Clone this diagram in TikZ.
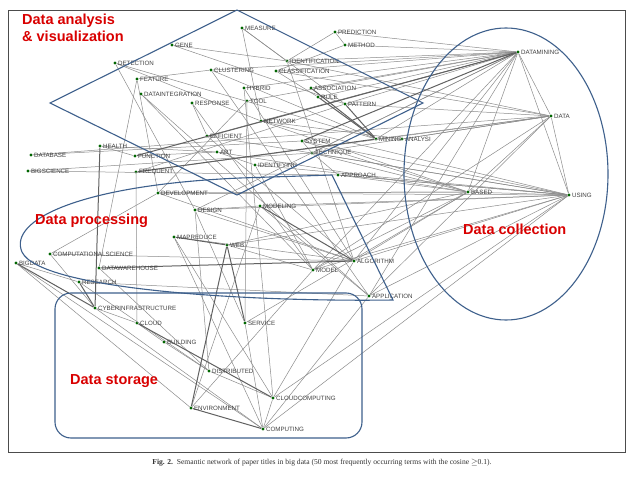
\documentclass[tikz,border=0pt]{standalone}
\usepackage{fontspec}
\setmainfont{Liberation Sans}
\newfontfamily\capfont{Liberation Serif}
\definecolor{regblue}{RGB}{62,96,140}
\begin{document}
\begin{tikzpicture}[x=1pt,y=-1pt,
  dot/.style={circle,fill=green!40!black,inner sep=0pt,minimum size=3.4pt},
  lab/.style={font=\fontsize{6.2}{7}\selectfont,text=black!75,inner sep=1pt},
  edge/.style={draw=black!45,line width=0.5pt},
  sedge/.style={draw=black!62,line width=1pt},
  region/.style={draw=regblue,line width=1.1pt},
  title/.style={text=red!85!black,font=\bfseries\fontsize{14.5}{17}\selectfont,anchor=north west,align=left,inner sep=0pt}]
\useasboundingbox (0,0) rectangle (638,479);
\fill[white] (0,0) rectangle (638,479);
\draw[black!70,line width=0.8pt] (8,10) rectangle (625,452);
\foreach \id/\x/\y in {
 MEASURE/242/28, GENE/172/45, DETECTION/115/63,
 IDENTIFICATION/287/61, CLUSTERING/211/70,
 CLASSIFICATION/276/71, FEATURE/137/79,
 DATAINTEGRATION/141/94, HYBRID/244/88, TOOL/247/101,
 RESPONSE/192/103, ASSOCIATION/311/88, RULE/318/97,
 PATTERN/345/104, PREDICTION/335/32, METHOD/345/45,
 NETWORK/261/121, EFFICIENT/207/136, HEALTH/100/146,
 DATABASE/31/155, BIGSCIENCE/28/171, FUNCTION/135/156,
 ART/217/152, SYSTEM/302/141, MINING/376/139, ANALYSI/402/139,
 TECHNIQUE/312/153, IDENTIFYING/255/165, FREQUENT/136/172,
 APPROACH/338/175, DEVELOPMENT/158/193, DESIGN/195/210,
 MODELING/260/206, DATAMINING/518/52, DATA/551/116,
 BASED/468/192, USING/569/195, MAPREDUCE/174/237, WEB/227/245,
 COMPSCI/50/254, BIGDATA/16/263,
 DATAWAREHOUSE/99/268, RESEARCH/79/282,
 CYBER/95/308, CLOUD/137/323, BUILDING/164/342,
 SERVICE/245/323, DISTRIBUTED/209/371, ENVIRONMENT/191/408,
 CLOUDCOMPUTING/273/398, COMPUTING/263/429, MODEL/313/270,
 ALGORITHM/354/261, APPLICATION/369/296}
 \node[dot] (\id) at (\x,\y) {};
\foreach \a/\b in {DATAMINING/PREDICTION,DATAMINING/METHOD,DATAMINING/IDENTIFICATION,DATAMINING/CLASSIFICATION,DATAMINING/CLUSTERING,DATAMINING/ASSOCIATION,DATAMINING/RULE,DATAMINING/PATTERN,DATAMINING/MINING,DATAMINING/DATA,DATAMINING/USING,DATAMINING/BASED,DATAMINING/APPLICATION,DATAMINING/ALGORITHM,DATAMINING/DESIGN,DATAMINING/NETWORK,DATAMINING/TECHNIQUE,DATAMINING/EFFICIENT,DATAMINING/MODEL,DATAMINING/HYBRID,DATAMINING/TOOL,
USING/DATA,USING/BASED,USING/APPROACH,USING/TECHNIQUE,USING/MODEL,USING/ALGORITHM,USING/APPLICATION,USING/SYSTEM,USING/NETWORK,USING/IDENTIFYING,USING/CLOUDCOMPUTING,USING/COMPUTING,USING/DESIGN,USING/MODELING,USING/WEB,USING/DEVELOPMENT,
DATA/ANALYSI,DATA/BASED,DATA/PATTERN,DATA/CLASSIFICATION,DATA/IDENTIFICATION,DATA/MINING,DATA/APPLICATION,DATA/MODEL,DATA/FREQUENT,DATA/DATABASE,
BASED/APPROACH,BASED/SYSTEM,BASED/ALGORITHM,BASED/MODEL,BASED/WEB,BASED/SERVICE,BASED/DEVELOPMENT,BASED/NETWORK,BASED/TECHNIQUE,
BIGDATA/RESEARCH,BIGDATA/ENVIRONMENT,BIGDATA/COMPUTING,COMPSCI/DEVELOPMENT,CYBER/CLOUD,CLOUD/BUILDING,BUILDING/DISTRIBUTED,DISTRIBUTED/CLOUDCOMPUTING,CLOUDCOMPUTING/COMPUTING,COMPUTING/SERVICE,COMPUTING/MAPREDUCE,CLOUDCOMPUTING/ALGORITHM,SERVICE/DESIGN,DATAWAREHOUSE/FEATURE,DEVELOPMENT/ALGORITHM,DESIGN/MODELING,DESIGN/ALGORITHM,MODELING/APPLICATION,FUNCTION/ART,FREQUENT/PATTERN,DETECTION/DESIGN,FEATURE/DEVELOPMENT,FEATURE/CLUSTERING,GENE/IDENTIFICATION,MEASURE/NETWORK,MEASURE/IDENTIFICATION,CLUSTERING/MINING,CLASSIFICATION/RULE,PREDICTION/METHOD,PREDICTION/IDENTIFICATION,METHOD/CLASSIFICATION,HYBRID/ALGORITHM,TOOL/DEVELOPMENT,RESPONSE/EFFICIENT,NETWORK/ANALYSI,EFFICIENT/ALGORITHM,IDENTIFYING/ART,IDENTIFYING/MODEL,SYSTEM/TECHNIQUE,TECHNIQUE/APPROACH,DATABASE/SYSTEM,BIGSCIENCE/TECHNIQUE,HEALTH/ART,DATAINTEGRATION/APPLICATION,RESEARCH/DISTRIBUTED,CYBER/COMPUTING,BIGSCIENCE/APPROACH,DETECTION/NETWORK,GENE/PATTERN,RESPONSE/MODEL,CLUSTERING/APPLICATION,HYBRID/CLOUDCOMPUTING,TOOL/SERVICE,MODELING/ENVIRONMENT,COMPSCI/CYBER,DATAWAREHOUSE/DISTRIBUTED,FREQUENT/CLOUD,RESEARCH/APPLICATION,MAPREDUCE/CLOUDCOMPUTING,MODEL/ENVIRONMENT,APPLICATION/COMPUTING,DESIGN/DISTRIBUTED,IDENTIFICATION/ALGORITHM,MEASURE/PATTERN,DETECTION/MINING,DATAINTEGRATION/MODEL,EFFICIENT/USING,ART/BASED,HEALTH/FUNCTION,DEVELOPMENT/BASED,MAPREDUCE/ALGORITHM,WEB/MODEL,COMPSCI/ALGORITHM,TECHNIQUE/DATA,APPROACH/USING}
 \draw[edge] (\a) -- (\b);
\foreach \a/\b in {HEALTH/CYBER,BIGDATA/CYBER,ENVIRONMENT/COMPUTING,SERVICE/WEB,WEB/MAPREDUCE,ASSOCIATION/MINING,RULE/MINING,PATTERN/MINING,DATAWAREHOUSE/ALGORITHM,FUNCTION/DATAMINING,ENVIRONMENT/WEB,RESEARCH/CYBER,CLOUD/CLOUDCOMPUTING,FREQUENT/MINING,SYSTEM/DATAMINING,MODELING/ALGORITHM}
 \draw[sedge] (\a) -- (\b);
\foreach \id in {MEASURE,GENE,DETECTION,IDENTIFICATION,CLUSTERING,CLASSIFICATION,FEATURE,DATAINTEGRATION,HYBRID,TOOL,RESPONSE,ASSOCIATION,RULE,PATTERN,PREDICTION,METHOD,NETWORK,EFFICIENT,HEALTH,DATABASE,BIGSCIENCE,FUNCTION,ART,SYSTEM,MINING,ANALYSI,TECHNIQUE,IDENTIFYING,FREQUENT,APPROACH,DEVELOPMENT,DESIGN,MODELING,DATAMINING,DATA,BASED,USING,MAPREDUCE,WEB,BIGDATA,DATAWAREHOUSE,RESEARCH,CLOUD,BUILDING,SERVICE,DISTRIBUTED,ENVIRONMENT,CLOUDCOMPUTING,COMPUTING,MODEL,ALGORITHM,APPLICATION}
 \node[lab,anchor=west] at (\id.east) {\id};
\node[lab,anchor=west] at (COMPSCI.east) {COMPUTATIONALSCIENCE};
\node[lab,anchor=west] at (CYBER.east) {CYBERINFRASTRUCTURE};
% regions
\draw[region] (50,103) -- (237,10) -- (423,103) -- (237,195) -- cycle;
\draw[region] (506,174) ellipse [x radius=102, y radius=146];
\draw[region] (332,175) -- (393,300) .. controls (250,302) and (40,290) .. (22,252)
  .. controls (8,220) and (80,185) .. (240,178) -- cycle;
\draw[region,rounded corners=16pt] (55,293) rectangle (362,438);
\node[title] at (22,14) {Data analysis\\\& visualization};
\node[title] at (35,214) {Data processing};
\node[title] at (463,224) {Data collection};
\node[title] at (70,374) {Data storage};
\node[font=\capfont\fontsize{7.6}{9}\selectfont,text=black!80] at (322,463)
 {\textbf{Fig. 2.}\ \ Semantic network of paper titles in big data (50 most frequently occurring terms with the cosine $\geq$0.1).};
\end{tikzpicture}
\end{document}
